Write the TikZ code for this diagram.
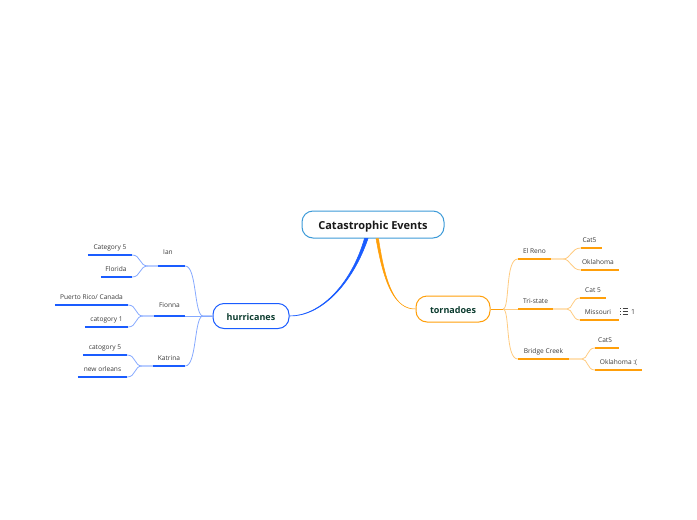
\documentclass[tikz,border=0pt]{standalone}
\usepackage{fontspec}
\setmainfont{Open Sans}
\usepackage{xcolor}
\definecolor{hblue}{HTML}{1A5CFF}
\definecolor{hlight}{HTML}{86A9FF}
\definecolor{torange}{HTML}{FF9F0A}
\definecolor{tlight}{HTML}{FFCB80}
\definecolor{rootblue}{HTML}{3C9AD8}
\definecolor{darkgreen}{HTML}{0B3B2E}
\definecolor{leaftext}{HTML}{3A3A3A}
\tikzset{
  rootbox/.style={draw=rootblue,line width=1pt,rounded corners=11pt,fill=white,minimum width=142pt,minimum height=27pt,text height=9.5pt,text depth=.5pt,font=\fontsize{11}{12}\selectfont\bfseries,text=black!90},
  mainbox/.style={draw=#1,line width=1pt,rounded corners=11pt,fill=white,minimum height=25pt,text height=8.5pt,text depth=0pt,font=\fontsize{9}{11}\selectfont\bfseries,text=darkgreen},
  leaf/.style={anchor=south,inner xsep=0pt,inner ysep=3.6pt,text height=5pt,text depth=2pt,text=leaftext,font=\fontsize{6.6}{8}\selectfont,minimum width=#1},
  hleaf/.style={leaf=#1,append after command={(\tikzlastnode.south west) edge[hblue,line width=1.6pt] (\tikzlastnode.south east)}},
  tleaf/.style={leaf=#1,append after command={(\tikzlastnode.south west) edge[torange,line width=1.6pt] (\tikzlastnode.south east)}},
  hlink/.style={hlight,line width=.8pt},
  tlink/.style={tlight,line width=.8pt},
}
\begin{document}
\begin{tikzpicture}[x=1pt,y=-1pt]
  \useasboundingbox (0,0) rectangle (697,520);
  % main boxes
  \node[rootbox] (root) at (373,224.5) {Catastrophic Events};
  \node[mainbox=hblue,minimum width=76pt] (hurricanes) at (251,316) {hurricanes};
  \node[mainbox=torange,minimum width=74pt,minimum height=26pt] (tornadoes) at (453,309) {tornadoes};
  % hurricanes side
  \node[hleaf=27pt,inner ysep=9.6pt] (ian) at (171.5,266) {Ian\kern7pt};
  \node[hleaf=31pt,inner ysep=6pt] (fionna) at (169.5,316) {Fionna};
  \node[hleaf=32pt] (katrina) at (169,366) {Katrina};
  \node[hleaf=44pt] (cat5a) at (110,255) {Category 5};
  \node[hleaf=31pt] (florida) at (116.5,277) {Florida\kern1pt};
  \node[hleaf=73pt] (puerto) at (91.5,305) {Puerto Rico/ Canada};
  \node[hleaf=43pt] (cat1) at (106.5,327) {catogory 1};
  \node[hleaf=44pt] (cat5b) at (105,355) {catogory 5};
  \node[hleaf=49pt] (orleans) at (102.5,377) {new orleans};
  % tornadoes side
  \node[tleaf=33pt] (elreno) at (534.5,259) {El Reno};
  \node[tleaf=35pt] (tristate) at (535.5,309) {Tri-state};
  \node[tleaf=51pt] (bridge) at (543.5,359) {Bridge Creek};
  \node[tleaf=21pt] (cat5c) at (591.5,248) {Cat5\kern4pt};
  \node[tleaf=38pt] (okla) at (600,270) {Oklahoma\kern4pt};
  \node[tleaf=26pt] (cat5d) at (593,298) {Cat 5};
  \node[tleaf=39pt] (missouri) at (599.5,320) {Missouri\kern3pt};
  \node[tleaf=24pt] (cat5e) at (607,348) {CatS\kern4pt};
  \node[tleaf=47pt] (okla2) at (618.5,370) {Oklahoma :(};
  % thick branches
  \filldraw[hblue,line width=.6pt] ([xshift=-8.5pt]root.south) .. controls (351,285) and (320,316) .. (hurricanes.east) .. controls (320,316.5) and (351.5,286) .. ([xshift=-5pt]root.south) -- cycle;
  \filldraw[torange,line width=.5pt] ([xshift=3pt]root.south) .. controls (384,285) and (395,309) .. (tornadoes.west) .. controls (395,309.5) and (385.5,285) .. ([xshift=5.5pt]root.south) -- cycle;
  % hurricanes links
  \draw[hlink] (ian.south east) .. controls (197,266) and (194,316) .. (203,316) -- (hurricanes.west);
  \draw[hlink] (fionna.south east) -- (hurricanes.west);
  \draw[hlink] (katrina.south east) .. controls (197,366) and (194,316) .. (203,316) -- (hurricanes.west);
  \draw[hlink] (cat5a.south east) .. controls (141,255) and (139,266) .. (148,266) -- (ian.south west);
  \draw[hlink] (florida.south east) .. controls (141,277) and (139,266) .. (148,266) -- (ian.south west);
  \draw[hlink] (puerto.south east) .. controls (137,305) and (135,316) .. (143,316) -- (fionna.south west);
  \draw[hlink] (cat1.south east) .. controls (137,327) and (135,316) .. (143,316) -- (fionna.south west);
  \draw[hlink] (cat5b.south east) .. controls (136,355) and (134,366) .. (142,366) -- (katrina.south west);
  \draw[hlink] (orleans.south east) .. controls (136,377) and (134,366) .. (142,366) -- (katrina.south west);
  % tornadoes links
  \draw[torange,line width=.9pt] (tornadoes.east) -- (503,309);
  \draw[tlink] (503,309) .. controls (510,309) and (505,259) .. (elreno.south west);
  \draw[tlink] (503,309) -- (tristate.south west);
  \draw[tlink] (503,309) .. controls (510,309) and (505,359) .. (bridge.south west);
  \draw[tlink] (elreno.south east) -- (563,259) .. controls (571,259) and (571,248) .. (cat5c.south west);
  \draw[tlink] (elreno.south east) -- (563,259) .. controls (571,259) and (571,270) .. (okla.south west);
  \draw[tlink] (tristate.south east) -- (567,309) .. controls (573,309) and (572,298) .. (cat5d.south west);
  \draw[tlink] (tristate.south east) -- (567,309) .. controls (573,309) and (572,320) .. (missouri.south west);
  \draw[tlink] (bridge.south east) -- (582,359) .. controls (588,359) and (587,348) .. (cat5e.south west);
  \draw[tlink] (bridge.south east) -- (582,359) .. controls (588,359) and (587,370) .. (okla2.south west);
  % list icon
  \foreach \y in {308.5,311.3,314} {
    \fill[black!75] (620.2,\y-.5) rectangle (621.4,\y+.5);
    \draw[black!75,line width=.7pt] (622.6,\y) -- (628,\y);
  }
  \node[text=black!75,font=\fontsize{7}{8}\selectfont,inner sep=0pt] (count) at (633,312) {1};
\end{tikzpicture}
\end{document}
